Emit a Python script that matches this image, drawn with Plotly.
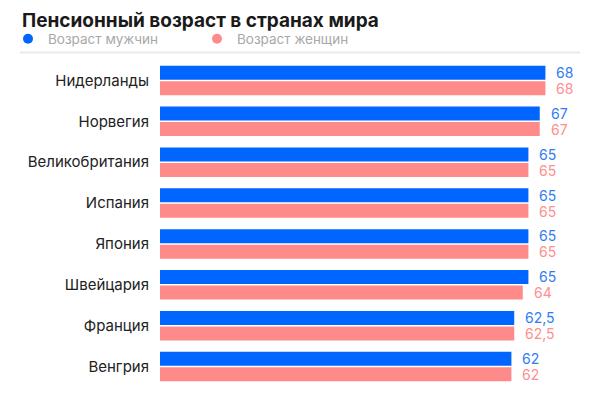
import plotly.graph_objects as go

countries = ["Нидерланды", "Норвегия", "Великобритания", "Испания", "Япония", "Швейцария", "Франция", "Венгрия"]
men = [68, 67, 65, 65, 65, 65, 62.5, 62]
women = [68, 67, 65, 65, 65, 64, 62.5, 62]
series_names = ["Возраст мужчин", "Возраст женщин"]

BLUE = "#0066FF"
PINK = "#FF8A8A"
BLUE_TXT = "#2F7CF6"
PINK_TXT = "#FF8E8E"
FONT = "Inter"

W, H = 606, 388  # page body adds an 8px margin

def fmt(v):
    return ("%g" % v).replace(".", ",")

fig = go.Figure()
fig.add_trace(go.Bar(y=countries, x=men, orientation="h", marker=dict(color=BLUE, line=dict(width=0)),
                     name=series_names[0], showlegend=False, hoverinfo="x"))
fig.add_trace(go.Bar(y=countries, x=women, orientation="h", marker=dict(color=PINK, line=dict(width=0)),
                     name=series_names[1], showlegend=False, hoverinfo="x"))
# legend entries with circle markers
fig.add_trace(go.Scatter(x=[None], y=[None], mode="markers", name=series_names[0],
                         marker=dict(color=BLUE, size=10, symbol="circle")))
fig.add_trace(go.Scatter(x=[None], y=[None], mode="markers", name=series_names[1],
                         marker=dict(color=PINK, size=10, symbol="circle")))

annotations = []
for c, m, w in zip(countries, men, women):
    annotations.append(dict(x=m, y=c, xref="x", yref="y", text=fmt(m), showarrow=False,
                            xanchor="left", xshift=9, yshift=8,
                            font=dict(family=FONT, size=14, color=BLUE_TXT)))
    annotations.append(dict(x=w, y=c, xref="x", yref="y", text=fmt(w), showarrow=False,
                            xanchor="left", xshift=9, yshift=-8,
                            font=dict(family=FONT, size=14, color=PINK_TXT)))

fig.update_layout(
    width=W, height=H,
    margin=dict(l=152, r=0, t=51.5, b=8.5),
    paper_bgcolor="white", plot_bgcolor="white",
    barmode="group", bargap=0.24, bargroupgap=0.1,
    font=dict(family=FONT, color="#222222"),
    title=dict(text="<b>Пенсионный возраст в странах мира</b>", x=14/W, xref="container", xanchor="left",
               y=1 - 12/H, yref="container", yanchor="middle",
               font=dict(family=FONT, size=19, color="#1a1a1a")),
    legend=dict(orientation="h", x=0, xref="container", y=1 - 31/H, yref="container", yanchor="middle",
                xanchor="left", font=dict(family=FONT, size=13.5, color="#a8a8a8"),
                itemclick=False, entrywidth=144, bgcolor="rgba(0,0,0,0)"),
    xaxis=dict(range=[0, 80.1], visible=False, showgrid=False, zeroline=False, fixedrange=True),
    yaxis=dict(autorange="reversed", automargin=False, showgrid=False, zeroline=False, showline=False, ticks="",
               ticklabelstandoff=10, tickfont=dict(family=FONT, size=15, color="#222222")),
    annotations=annotations,
    shapes=[dict(type="line", xref="paper", yref="paper", x0=-140/454, x1=420/454, y0=1.0229, y1=1.0229,
                 line=dict(color="#e9e9e9", width=2))],
)

fig.write_html("out.html")
